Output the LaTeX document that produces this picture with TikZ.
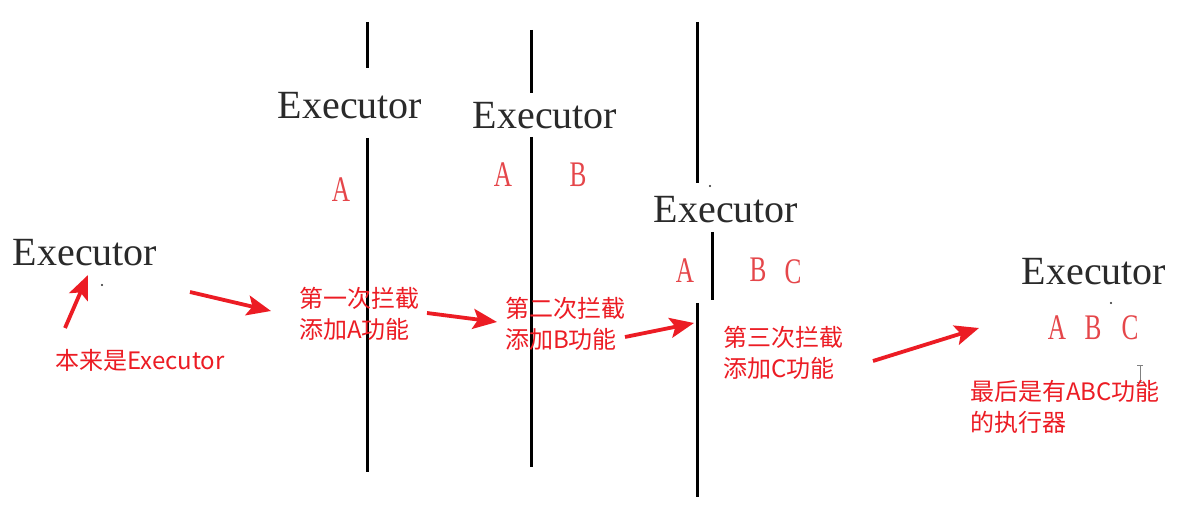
\documentclass[tikz,border=0pt]{standalone}
\usepackage{fontspec}
\usetikzlibrary{arrows.meta}
\newfontfamily\cjk{Noto Sans CJK SC}
\newfontfamily\serifx{Liberation Serif}
\definecolor{annred}{HTML}{EC1C24}
\definecolor{letred}{HTML}{E5464A}
\definecolor{exgray}{HTML}{2A2A2A}
\tikzset{
  exec/.style={inner sep=0pt, text=exgray, font=\serifx\fontsize{40}{44}\selectfont},
  letter/.style={inner sep=0pt, text=letred, font=\serifx\fontsize{36}{40}\selectfont},
  note/.style={inner sep=0pt, text=annred, anchor=west, align=left, font=\cjk\fontsize{24}{31}\selectfont},
  bar/.style={line width=3pt, black},
  redarrow/.style={annred, line width=3.8pt, -{Stealth[length=24pt,width=20pt,inset=5pt]}},
  speck/.style={fill=exgray, draw=none, inner sep=0pt, minimum size=2.4pt, circle}
}
\newcommand{\nl}[1]{\scalebox{0.7}[1]{#1}}
\begin{document}
\begin{tikzpicture}[x=1pt,y=-1pt]
\fill[white] (0,0) rectangle (1193,510);
\useasboundingbox (0,0) rectangle (1193,510);

% vertical bars
\coordinate (b1a) at (367,22);  \coordinate (b1b) at (367,68);
\coordinate (b1c) at (367,138); \coordinate (b1d) at (367,472);
\coordinate (b2a) at (531,30);  \coordinate (b2b) at (531,93);
\coordinate (b2c) at (531,137); \coordinate (b2d) at (531,467);
\coordinate (b3a) at (697,22);  \coordinate (b3b) at (697,183);
\coordinate (b3c) at (712,232); \coordinate (b3d) at (712,300);
\coordinate (b3e) at (697,303); \coordinate (b3f) at (697,497);
\draw[bar] (b1a) -- (b1b);
\draw[bar] (b1c) -- (b1d);
\draw[bar] (b2a) -- (b2b);
\draw[bar] (b2c) -- (b2d);
\draw[bar] (b3a) -- (b3b);
\draw[bar] (b3c) -- (b3d);
\draw[bar] (b3e) -- (b3f);

% Executors
\node[exec] (e0) at (85,253) {Executor};
\node[exec] (e1) at (350,106) {Executor};
\node[exec] (e2) at (545,116) {Executor};
\node[exec] (e3) at (726,210) {Executor};
\node[exec] (e4) at (1094,272) {Executor};

% specks
\node[speck] (s0) at (102,285) {};
\node[speck] (s3) at (710,186) {};
\node[speck] (s4) at (1111,303) {};

% letters
\node[letter] (l1a) at (341,190) {\nl{A}};
\node[letter] (l2a) at (503,175) {\nl{A}};
\node[letter] (l2b) at (578,175) {\nl{B}};
\node[letter] (l3a) at (685,271) {\nl{A}};
\node[letter] (l3b) at (758,270) {\nl{B}};
\node[letter] (l3c) at (793,272) {\nl{C}};
\node[letter] (l4a) at (1057,328) {\nl{A}};
\node[letter] (l4b) at (1093,328) {\nl{B}};
\node[letter] (l4c) at (1130,328) {\nl{C}};

% cursor
\draw[gray, line width=1pt] (1140,365) -- (1140,382)
  (1137,365) -- (1143,365) (1137,382) -- (1143,382);

% notes
\node[note] (n0) at (55,360) {本来是Executor};
\node[note] (n1) at (299,314) {第一次拦截\\添加A功能};
\node[note] (n2) at (505,324) {第二次拦截\\添加B功能};
\node[note] (n3) at (723,353) {第三次拦截\\添加C功能};
\node[note] (n4) at (970,407) {最后是有ABC功能\\的执行器};

% arrows
\coordinate (a0t) at (65,328);  \coordinate (a0h) at (88,275);
\coordinate (a1t) at (190,292); \coordinate (a1h) at (271,311);
\coordinate (a2t) at (427,313); \coordinate (a2h) at (497,322);
\coordinate (a3t) at (625,337); \coordinate (a3h) at (694,323);
\coordinate (a4t) at (873,361); \coordinate (a4h) at (979,328);
\draw[redarrow] (a0t) -- (a0h);
\draw[redarrow] (a1t) -- (a1h);
\draw[redarrow] (a2t) -- (a2h);
\draw[redarrow] (a3t) -- (a3h);
\draw[redarrow] (a4t) -- (a4h);
\end{tikzpicture}
\end{document}
